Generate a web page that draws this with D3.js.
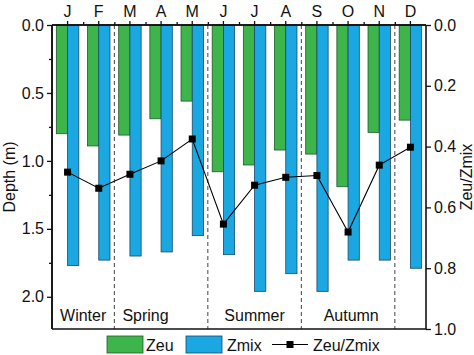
<!DOCTYPE html>
<html>
<head>
<meta charset="utf-8">
<script src="https://cdn.jsdelivr.net/npm/d3@7/dist/d3.min.js"></script>
<style>
  html, body { margin: 0; padding: 0; background: #fff; }
  text { font-family: "Liberation Sans", Arial, sans-serif; fill: #111; }
</style>
</head>
<body>
<svg id="chart" width="474" height="355"></svg>
<script>
const months = ["Jan","Feb","Mar","Apr","May","Jun","Jul","Aug","Sep","Oct","Nov","Dec"];
const monthLabels = ["J","F","M","A","M","J","J","A","S","O","N","D"];
const zeu  = [0.80, 0.89, 0.81, 0.69, 0.56, 1.08, 1.03, 0.92, 0.95, 1.19, 0.79, 0.70];
const zmix = [1.77, 1.73, 1.70, 1.67, 1.55, 1.69, 1.96, 1.83, 1.96, 1.73, 1.73, 1.79];
const ratio = [0.484, 0.537, 0.491, 0.447, 0.375, 0.655, 0.527, 0.501, 0.495, 0.681, 0.461, 0.402];
const leftTicks = [0, 0.5, 1.0, 1.5, 2.0];
const rightTicks = [0, 0.2, 0.4, 0.6, 0.8, 1.0];
const seasons = ["Winter", "Spring", "Summer", "Autumn"];
const seasonStart = ["Mar", "Jun", "Sep", "Dec"];   // dashed divider before these months
const seasonAnchor = [1.0, 3.0, 6.5, 9.6];           // label centre, in month-band units

const svg = d3.select("#chart");
const L = 52, R = 426, T = 25, B = 329;

const x = d3.scaleBand().domain(months).range([L, R]).padding(0);
const bw = x.bandwidth();
const yL = d3.scaleLinear().domain([0, 2.237]).range([T, B]);
const yR = d3.scaleLinear().domain([0, 1]).range([T, B]);
const xPos = d3.scaleLinear().domain([0, 12]).range([L, R]);

const green = "#3db54a", blue = "#1ba7e1";
const barW = bw * 0.36;

// bars
svg.append("g").selectAll("rect").data(months).join("rect")
  .attr("x", d => x(d) + bw / 2 - barW)
  .attr("y", yL(0))
  .attr("width", barW)
  .attr("height", (d, i) => yL(zeu[i]) - yL(0))
  .attr("fill", green).attr("stroke", "#1f5a2a").attr("stroke-width", 0.8);
svg.append("g").selectAll("rect").data(months).join("rect")
  .attr("x", d => x(d) + bw / 2)
  .attr("y", yL(0))
  .attr("width", barW)
  .attr("height", (d, i) => yL(zmix[i]) - yL(0))
  .attr("fill", blue).attr("stroke", "#184a66").attr("stroke-width", 0.8);

// season dividers
svg.append("g").selectAll("line").data(seasonStart).join("line")
  .attr("x1", d => x(d)).attr("x2", d => x(d))
  .attr("y1", T).attr("y2", B)
  .attr("stroke", "#444").attr("stroke-width", 1).attr("stroke-dasharray", "4,3");

// season labels
svg.append("g").selectAll("text").data(seasons).join("text")
  .attr("x", (d, i) => xPos(seasonAnchor[i]))
  .attr("y", 321)
  .attr("text-anchor", "middle").attr("font-size", 16)
  .text(d => d);

// ratio line
const line = d3.line().x((d, i) => x(months[i]) + bw / 2).y(d => yR(d));
svg.append("path").datum(ratio).attr("d", line)
  .attr("fill", "none").attr("stroke", "#000").attr("stroke-width", 1.1);
svg.append("g").selectAll("rect").data(ratio).join("rect")
  .attr("x", (d, i) => x(months[i]) + bw / 2 - 3.5)
  .attr("y", d => yR(d) - 3.5)
  .attr("width", 7).attr("height", 7).attr("fill", "#000");

// axes
const axL = svg.append("g").attr("transform", `translate(${L},0)`)
  .call(d3.axisLeft(yL).tickValues(leftTicks).tickFormat(d3.format(".1f")).tickSize(5).tickPadding(3));
const axLm = svg.append("g").attr("transform", `translate(${L},0)`)
  .call(d3.axisLeft(yL).tickValues([0.25, 0.75, 1.25, 1.75]).tickFormat("").tickSize(3));
const axR = svg.append("g").attr("transform", `translate(${R},0)`)
  .call(d3.axisRight(yR).tickValues(rightTicks).tickFormat(d3.format(".1f")).tickSize(5).tickPadding(3));
const axT = svg.append("g").attr("transform", `translate(0,${T})`)
  .call(d3.axisTop(x).tickFormat((d, i) => monthLabels[i]).tickSize(4).tickPadding(4));
const axTm = svg.append("g").attr("transform", `translate(0,${T})`)
  .call(d3.axisTop(xPos).tickValues(d3.range(1, 12)).tickFormat("").tickSize(3));
const axB = svg.append("g").attr("transform", `translate(0,${B})`)
  .call(d3.axisBottom(x).tickValues([]).tickSizeOuter(0));

[axL, axLm, axR, axT, axTm, axB].forEach(g => {
  g.selectAll("path.domain").attr("stroke", "#111").attr("stroke-width", 1.6);
  g.selectAll(".tick line").attr("stroke", "#111").attr("stroke-width", 1.3);
  g.selectAll(".tick text").attr("font-size", 16).attr("fill", "#111")
    .attr("font-family", '"Liberation Sans", Arial, sans-serif');
});
[axL, axLm, axR].forEach(g => g.select("path.domain").attr("d", `M0,${T}V${B}`));
[axT, axTm].forEach(g => g.select("path.domain").attr("d", `M${L},0H${R}`));
axB.select("path.domain").attr("d", `M${L},0H${R}`);

// axis titles
svg.append("text").attr("transform", `translate(15,${(T + B) / 2}) rotate(-90)`)
  .attr("text-anchor", "middle").attr("font-size", 16).text("Depth (m)");
svg.append("text").attr("transform", `translate(472,${(T + B) / 2}) rotate(-90)`)
  .attr("text-anchor", "middle").attr("font-size", 16).text("Zeu/Zmix");

// legend
const lg = svg.append("g");
lg.append("rect").attr("x", 107).attr("y", 336).attr("width", 36).attr("height", 17)
  .attr("fill", green).attr("stroke", "#1f5a2a").attr("stroke-width", 0.8);
lg.append("text").attr("x", 146).attr("y", 351).attr("font-size", 16).text("Zeu");
lg.append("rect").attr("x", 186).attr("y", 336).attr("width", 36).attr("height", 17)
  .attr("fill", blue).attr("stroke", "#184a66").attr("stroke-width", 0.8);
lg.append("text").attr("x", 227).attr("y", 351).attr("font-size", 16).text("Zmix");
lg.append("line").attr("x1", 272).attr("x2", 308).attr("y1", 344.5).attr("y2", 344.5)
  .attr("stroke", "#000").attr("stroke-width", 1.1);
lg.append("rect").attr("x", 286.5).attr("y", 341).attr("width", 7).attr("height", 7).attr("fill", "#000");
lg.append("text").attr("x", 313).attr("y", 351).attr("font-size", 16).text("Zeu/Zmix");
</script>
</body>
</html>
